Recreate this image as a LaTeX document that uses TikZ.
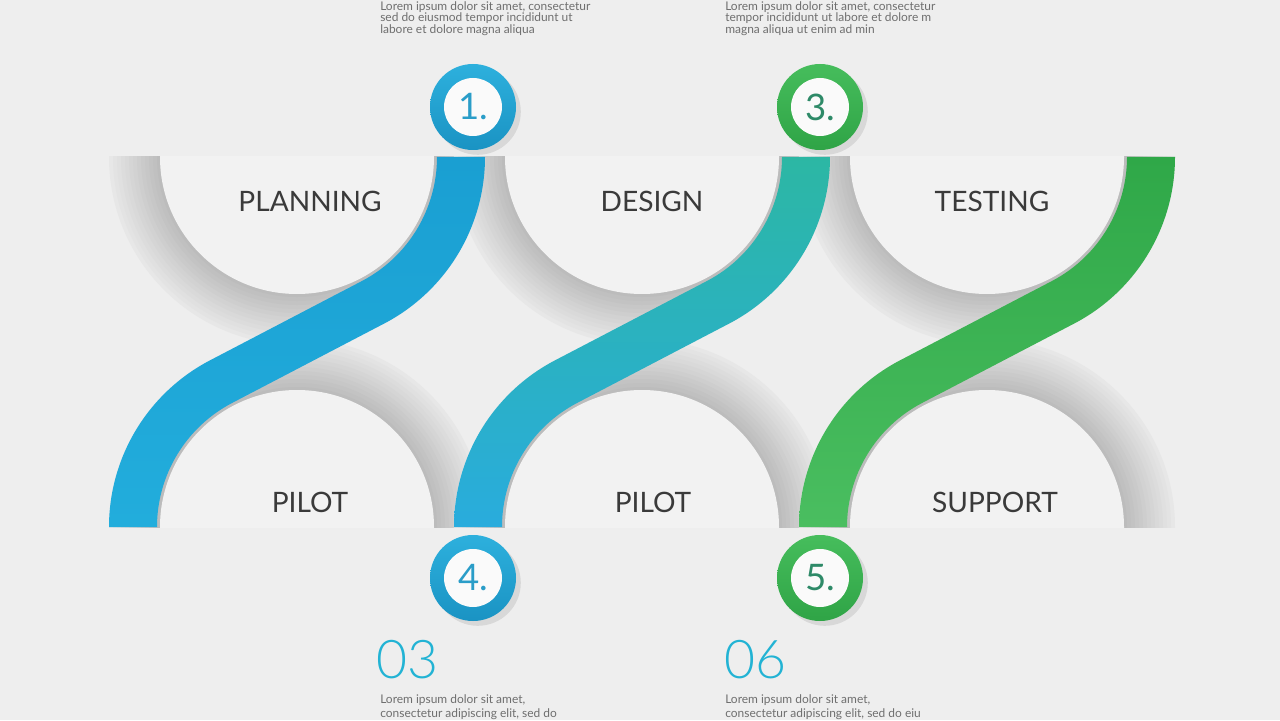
\documentclass[tikz,border=0pt]{standalone}
\usepackage{fontspec}
\setmainfont{Lato}
\newfontfamily\thinfont{Lato Light}
\usetikzlibrary{calc}
\usetikzlibrary{shadows}
\usetikzlibrary{positioning}

\definecolor{bgcol}{HTML}{EEEEEE}
\definecolor{disccol}{HTML}{F2F2F2}
\definecolor{ringdark}{HTML}{BCBCBC}
\definecolor{ringlight}{HTML}{E7E7E7}
\definecolor{labelcol}{HTML}{3A3A3A}
\definecolor{loremcol}{HTML}{6E6E6E}
\definecolor{bluetop}{HTML}{1A9FD2}
\definecolor{bluebot}{HTML}{22ADDC}
\definecolor{tealtop}{HTML}{2CB7A4}
\definecolor{tealbot}{HTML}{29ACDD}
\definecolor{greentop}{HTML}{2FA848}
\definecolor{greenbot}{HTML}{4ABE60}
\definecolor{numblue}{HTML}{2A9DC8}
\definecolor{numgreen}{HTML}{2E8A68}
\definecolor{bigcyan}{HTML}{22B3D4}
\definecolor{circtop}{HTML}{2DB0DD}
\definecolor{circbot}{HTML}{1A93C3}
\definecolor{gcirctop}{HTML}{46BD5C}
\definecolor{gcircbot}{HTML}{2FA446}

\tikzset{
  steplabel/.style={font=\fontsize{20}{24}\selectfont, text=labelcol},
  bignum/.style={font=\thinfont\fontsize{38}{44}\selectfont, text=bigcyan},
  lorem/.style={anchor=west, inner sep=0pt, font=\fontsize{8.5}{10}\selectfont, text=loremcol},
  bluecirc/.style={circle, minimum size=21.5mm, inner sep=0pt, top color=circtop, bottom color=circbot,
    drop shadow={opacity=0.2, shadow xshift=1.2mm, shadow yshift=-1.2mm}},
  greencirc/.style={circle, minimum size=21.5mm, inner sep=0pt, top color=gcirctop, bottom color=gcircbot,
    drop shadow={opacity=0.2, shadow xshift=1.2mm, shadow yshift=-1.2mm}},
  numdisc/.style={circle, minimum size=14.5mm, inner sep=0pt, fill=white!96!gray, font=\fontsize{26}{30}\selectfont}
}

% band angle where the arcs meet the straight part
\pgfmathsetmacro{\al}{asin(164/185)}

% S shaped band of one column, centre x = #1
\newcommand{\sband}[3]{%
  \shade[top color=#2, bottom color=#3]
    ({#1+188},563) arc[start angle=0, end angle=-\al, radius=188]
    -- ($(#1,193)+(180-\al:140)$) arc[start angle=180-\al, end angle=180, radius=140]
    -- ({#1-188},193) arc[start angle=180, end angle=180-\al, radius=188]
    -- ($(#1,563)+(-\al:140)$) arc[start angle=-\al, end angle=0, radius=140]
    -- cycle;}

\begin{document}
\begin{tikzpicture}[x=0.25mm, y=0.25mm]
  \useasboundingbox (0,0) rectangle (1280,720);
  \clip (0,0) rectangle (1280,720);
  \fill[bgcol] (0,0) rectangle (1280,720);

  % Gray half rings, upper row
  \begin{scope}
    \clip (0,300) rectangle (1280,563);
    \foreach \cx in {297,642,987} {
      \foreach \r in {188,184,...,140} {
        \pgfmathsetmacro{\p}{(188-\r)/48*100}
        \fill[ringdark!\p!ringlight] (\cx,563) circle[radius=\r];
      }
      \fill[disccol] (\cx,563) circle[radius=137];
    }
  \end{scope}

  % Gray half rings, lower row
  \begin{scope}
    \clip (0,193) rectangle (1280,400);
    \foreach \cx in {297,642,987} {
      \foreach \r in {188,184,...,140} {
        \pgfmathsetmacro{\p}{(188-\r)/48*100}
        \fill[ringdark!\p!ringlight] (\cx,193) circle[radius=\r];
      }
      \fill[disccol] (\cx,193) circle[radius=137];
    }
  \end{scope}

  % Coloured bands
  \sband{297}{bluetop}{bluebot}
  \sband{642}{tealtop}{tealbot}
  \sband{987}{greentop}{greenbot}

  % Step names
  \node[steplabel] (planning) at (310,519) {PLANNING};
  \node[steplabel] (design)   at (652,519) {DESIGN};
  \node[steplabel] (testing)  at (992,519) {TESTING};
  \node[steplabel] (pilota)   at (310,218) {PILOT};
  \node[steplabel] (pilotb)   at (653,218) {PILOT};
  \node[steplabel] (support)  at (995,218) {SUPPORT};

  % Number badges
  \node[bluecirc]                   (n1) at (473,613) {};
  \node[numdisc, text=numblue]      (n1t) at (n1) {1.};
  \node[greencirc]                  (n3) at (820,613) {};
  \node[numdisc, text=numgreen]     (n3t) at (n3) {3.};
  \node[bluecirc]                   (n4) at (473,142) {};
  \node[numdisc, text=numblue]      (n4t) at (n4) {4.};
  \node[greencirc]                  (n5) at (820,142) {};
  \node[numdisc, text=numgreen]     (n5t) at (n5) {5.};

  % Big numbers
  \node[bignum] (big03) at (407,60) {03};
  \node[bignum] (big06) at (755,60) {06};

  % Small text blocks
  \node[lorem] (tla) at (380,713) {Lorem ipsum dolor sit amet, consectetur};
  \node[lorem] (tlb) at (380,702) {sed do eiusmod tempor incididunt ut};
  \node[lorem] (tlc) at (380,690) {labore et dolore magna aliqua};
  \node[lorem] (tra) at (725,713) {Lorem ipsum dolor sit amet, consectetur};
  \node[lorem] (trb) at (725,702) {tempor incididunt ut labore et dolore m};
  \node[lorem] (trc) at (725,690) {magna aliqua ut enim ad min};
  \node[lorem] (bla) at (380,20) {Lorem ipsum dolor sit amet,};
  \node[lorem] (blb) at (380,6)  {consectetur adipiscing elit, sed do};
  \node[lorem] (bra) at (725,20) {Lorem ipsum dolor sit amet,};
  \node[lorem] (brb) at (725,6)  {consectetur adipiscing elit, sed do eiu};
\end{tikzpicture}
\end{document}
